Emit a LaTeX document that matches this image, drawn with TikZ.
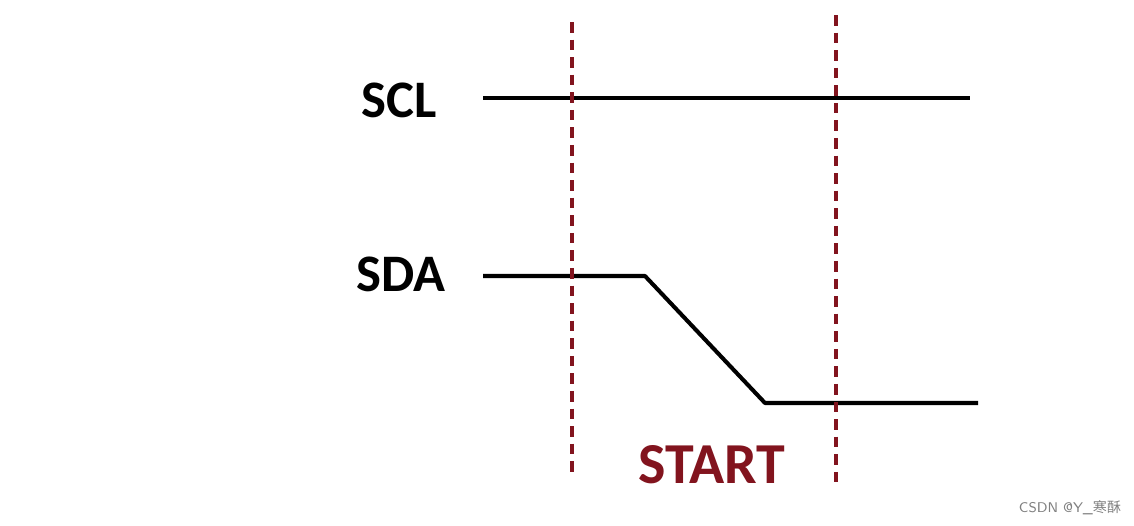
\documentclass[tikz,border=0pt]{standalone}
\usepackage{fontspec}
\setmainfont{Carlito}
\newfontfamily\cjk{Noto Sans CJK SC}
\definecolor{dred}{RGB}{130,20,30}
\begin{document}
\begin{tikzpicture}[x=0.02cm,y=-0.02cm,
  sig/.style={line width=2.3pt,black},
  guide/.style={line width=2.3pt,dred,dash pattern=on 6pt off 4pt},
  lbl/.style={font=\fontsize{30}{32}\selectfont\bfseries,inner sep=0}]
\useasboundingbox (0,0) rectangle (1134,525);
\node[lbl] (scl) at (399,100) {SCL};
\node[lbl] (sda) at (401,274) {SDA};
\coordinate (a1) at (483,98); \coordinate (a2) at (970,98);
\coordinate (b1) at (483,276); \coordinate (b2) at (645,276);
\coordinate (b3) at (765,403); \coordinate (b4) at (978,403);
\draw[sig] (a1) -- (a2);
\draw[sig,line join=round] (b1) -- (b2) -- (b3) -- (b4);
\coordinate (g1) at (572,22); \coordinate (g2) at (572,478);
\coordinate (h1) at (836,15); \coordinate (h2) at (836,485);
\draw[guide] (g1) -- (g2);
\draw[guide] (h1) -- (h2);
\node[lbl,dred,font=\fontsize{33}{35}\selectfont\bfseries] (start) at (712,465) {START};
\node[text=gray,font=\fontsize{8}{9}\selectfont\sffamily,inner sep=0] (wm) at (1070,508) {CSDN @Y\_{\cjk 寒酥}};
\end{tikzpicture}
\end{document}
